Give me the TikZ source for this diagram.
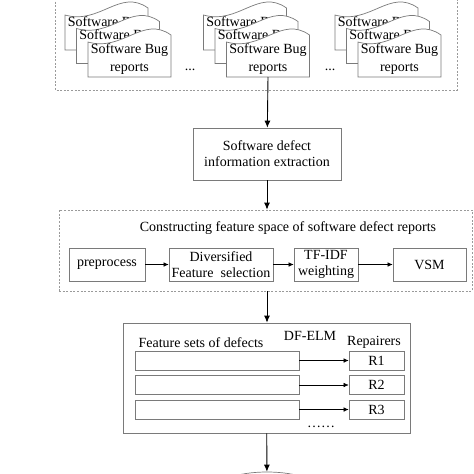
\documentclass[tikz,border=0pt]{standalone}
\usepackage{fontspec}
\setmainfont{Liberation Serif}
\usetikzlibrary{arrows.meta,shapes.geometric,positioning}
\definecolor{BoxGray}{HTML}{7a7a7a}
\definecolor{DashGray}{HTML}{9a9a9a}

\begin{document}
\begin{tikzpicture}[x=1pt, y=-1pt,
    every node/.style={font=\fontsize{14}{16}\selectfont},
    box/.style={draw=BoxGray, fill=white, align=center, inner sep=1pt, line width=0.7pt},
    dashbox/.style={draw=DashGray, dash pattern=on 2pt off 1.6pt, line width=0.7pt},
    sheet/.style={draw=BoxGray, fill=white, line width=0.7pt},
    flow/.style={-{Latex[length=7pt,width=6pt]}, line width=0.9pt},
    link/.style={-{Latex[length=5pt,width=4.5pt]}, line width=0.5pt},
    bugdoc/.pic={
      \draw[sheet] (0,0) -- (0,-35) .. controls (35,-25) and (55,-62) .. (83,-42) -- (83,0) -- cycle;
      \ifnum#1=0
        \node[align=center, inner sep=0pt] (-txt) at (41.5,-18) {Software Bug\\[2pt]reports};
      \else
        \node[inner sep=0pt] (-txt) at (41.5,-27) {Software Bug};
      \fi
      \coordinate (-foot) at (41.5,0);
    },
  ]
    \useasboundingbox (0,0) rectangle (474,474);
    \clip (0,0) rectangle (474,474);

    % bug report stacks
    \draw[dashbox] (55,-20) rectangle (457,90);
    \foreach \gx/\gn in {88/a,226.5/b,358/c}
      \foreach \k in {2,1,0}
        \pic (\gn\k) at (\gx-11.5*\k, 77-13.5*\k) {bugdoc=\k};
    \node (gap1) at (190,70) {...};
    \node (gap2) at (330,70) {...};

    % extraction
    \node[box, minimum width=148, minimum height=52] (extract) at (267,154)
      {Software defect\\information extraction};
    \draw[flow] (b0-foot) -- (extract);

    % feature space
    \node[dashbox, minimum width=413, minimum height=81] (construct) at (265.5,250.5) {};
    \node (ctitle) at (288,228) {Constructing feature space of software defect reports};
    \node[box, minimum width=76, minimum height=33] (pre) at (107,264.5) {preprocess};
    \node[box, minimum width=104, minimum height=33] (div) at (221,264.5) {Diversified\\Feature\ \ selection};
    \node[box, minimum width=64, minimum height=33] (tfidf) at (326,264.5) {TF-IDF\\weighting};
    \node[box, minimum width=73, minimum height=33] (vsm) at (429.5,264.5) {VSM};
    \draw[link] (pre) -- (div);
    \draw[link] (div) -- (tfidf);
    \draw[link] (tfidf) -- (vsm);
    \draw[flow] (extract) -- (extract |- construct.north);

    % DF-ELM
    \node[box, minimum width=287, minimum height=110] (dfelm) at (266.5,378) {};
    \draw[flow] (extract |- construct.south) -- (extract |- dfelm.north);
    \node (dftag) at (310,336) {DF-ELM};
    \node (reptag) at (374,342) {Repairers};
    \node (fstag) at (201,343) {Feature sets of defects};
    \foreach \i/\yy in {1/360.5,2/385,3/409.5} {
      \node[box, minimum width=164, minimum height=19] (fs\i) at (217,\yy) {};
      \node[box, minimum width=55, minimum height=19] (r\i) at (376.5,\yy) {R\i};
      \draw[link] (fs\i) -- (r\i);
    }
    \node[anchor=base] (more) at (321,427) {……};

    % result
    \node[draw=BoxGray, ellipse, line width=0.7pt, minimum width=110, minimum height=40] (result) at (267,492) {};
    \draw[flow] (dfelm) -- (result);
\end{tikzpicture}
\end{document}
